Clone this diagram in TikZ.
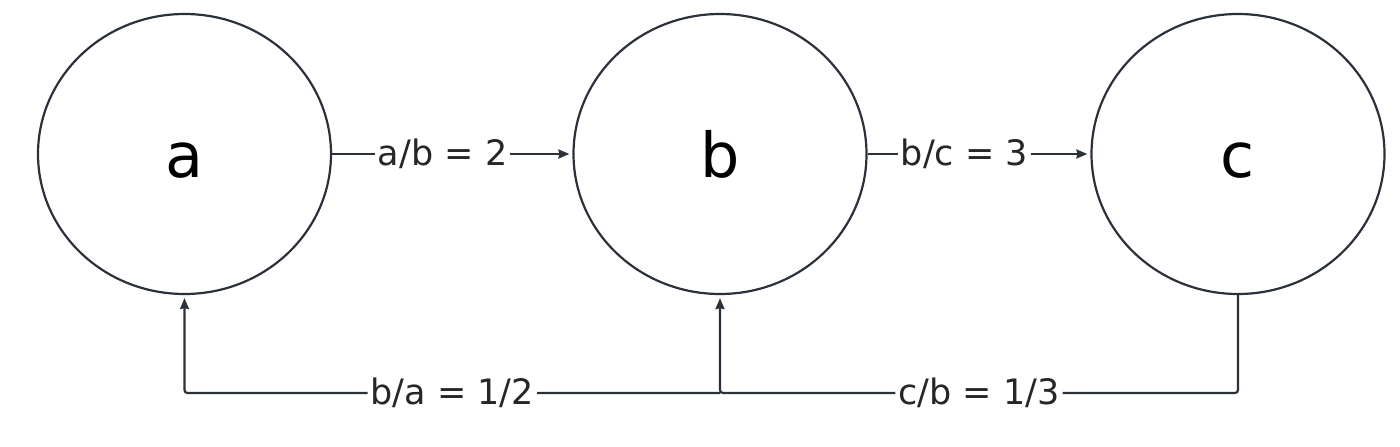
\documentclass[tikz,border=0pt]{standalone}
\usepackage{fontspec}
\setmainfont{DejaVu Sans}
\usetikzlibrary{shapes.geometric,arrows.meta}
\definecolor{ink}{HTML}{2B313B}
\tikzset{
  vnode/.style={draw=ink, line width=2.2pt, ellipse, minimum width=293pt, minimum height=280pt, inner sep=0pt, text height=47pt, text depth=0pt, font=\fontsize{62}{62}\selectfont, text=black},
  conn/.style={draw=ink, line width=2.2pt},
  arr/.style={conn, -{Stealth[length=11pt,width=9pt,inset=1pt]}, shorten >=3pt},
  lbl/.style={fill=white, inner sep=3pt, text=black!85, font=\fontsize{35}{35}\selectfont}
}
\begin{document}
\begin{tikzpicture}[x=1pt,y=-1pt]
\useasboundingbox (0,0) rectangle (1400,447);
\node[vnode] (a) at (184.5,154) {a};
\node[vnode] (b) at (720,154) {b};
\node[vnode] (c) at (1238,154) {c};
\coordinate (ab) at (184.5,393);
\coordinate (bb) at (720,393);
\coordinate (cb) at (1238,393);
\draw[arr] (a.east) -- node[lbl, pos=0.46] {a/b = 2} (b.west);
\draw[arr] (b.east) -- node[lbl, pos=0.435] {b/c = 3} (c.west);
\draw[arr, rounded corners=3pt] (bb) -- node[lbl, pos=0.50] {b/a = 1/2} (ab) -- (a.south);
\draw[arr, rounded corners=3pt] (c.south) -- (cb) -- node[lbl, pos=0.50] {c/b = 1/3} (bb) -- (b.south);
\end{tikzpicture}
\end{document}
